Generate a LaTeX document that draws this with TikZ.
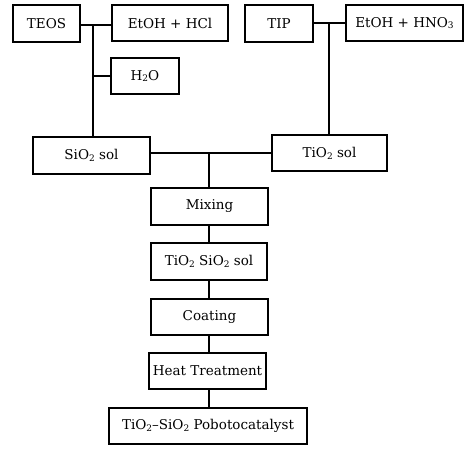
\documentclass[tikz,border=0pt]{standalone}
\usepackage{fontspec}
\setmainfont{DejaVu Serif}
\newcommand{\subtwo}{\raisebox{-0.25ex}{\fontsize{9}{9}\selectfont 2}}
\newcommand{\subthree}{\raisebox{-0.25ex}{\fontsize{9}{9}\selectfont 3}}
\begin{document}
\begin{tikzpicture}[x=1pt,y=1pt,
  boxnode/.style={draw=black,line width=1.8pt,fill=white,inner sep=0pt,font=\fontsize{13.5}{15}\selectfont},
  link/.style={line width=1.8pt}]
\useasboundingbox (0,0) rectangle (474,-449);
\node[boxnode,minimum width=67,minimum height=37] (teos) at (46.5,-23.5) {TEOS};
\node[boxnode,minimum width=116,minimum height=36] (etohcl) at (170,-23) {EtOH + HCl};
\node[boxnode,minimum width=68,minimum height=36] (water) at (145,-76) {H\subtwo O};
\node[boxnode,minimum width=117,minimum height=37] (sisol) at (91.5,-155.5) {SiO\subtwo\ sol};
\node[boxnode,minimum width=68,minimum height=37] (tip) at (279,-23.5) {TIP};
\node[boxnode,minimum width=117,minimum height=36] (etohno) at (404.5,-23) {EtOH + HNO\subthree};
\node[boxnode,minimum width=115,minimum height=36] (tisol) at (329.5,-153) {TiO\subtwo\ sol};
\node[boxnode,minimum width=117,minimum height=37] (mix) at (209.5,-206.5) {Mixing};
\node[boxnode,minimum width=116,minimum height=37] (tisi) at (209,-261.5) {TiO\subtwo\ SiO\subtwo\ sol};
\node[boxnode,minimum width=117,minimum height=36] (coat) at (209.5,-317) {Coating};
\node[boxnode,minimum width=117,minimum height=36] (heat) at (207.5,-371) {Heat Treatment};
\node[boxnode,minimum width=198,minimum height=36] (final) at (208,-426) {TiO\subtwo--SiO\subtwo\ Pobotocatalyst};
\coordinate (ja) at (93,-25);
\coordinate (jb) at (329,-23);
\coordinate (jc) at (209,-153);
\draw[link] (teos.east |- ja) -- (etohcl.west |- ja);
\draw[link] (ja) -- (ja |- sisol.north);
\draw[link] (ja |- water.west) -- (water.west);
\draw[link] (tip.east |- jb) -- (etohno.west |- jb);
\draw[link] (jb) -- (jb |- tisol.north);
\draw[link] (sisol.east |- jc) -- (tisol.west |- jc);
\draw[link] (jc) -- (jc |- mix.north);
\draw[link] (mix.south -| jc) -- (jc |- tisi.north);
\draw[link] (tisi.south -| jc) -- (jc |- coat.north);
\draw[link] (coat.south -| jc) -- (jc |- heat.north);
\draw[link] (heat.south -| jc) -- (jc |- final.north);
\end{tikzpicture}
\end{document}
